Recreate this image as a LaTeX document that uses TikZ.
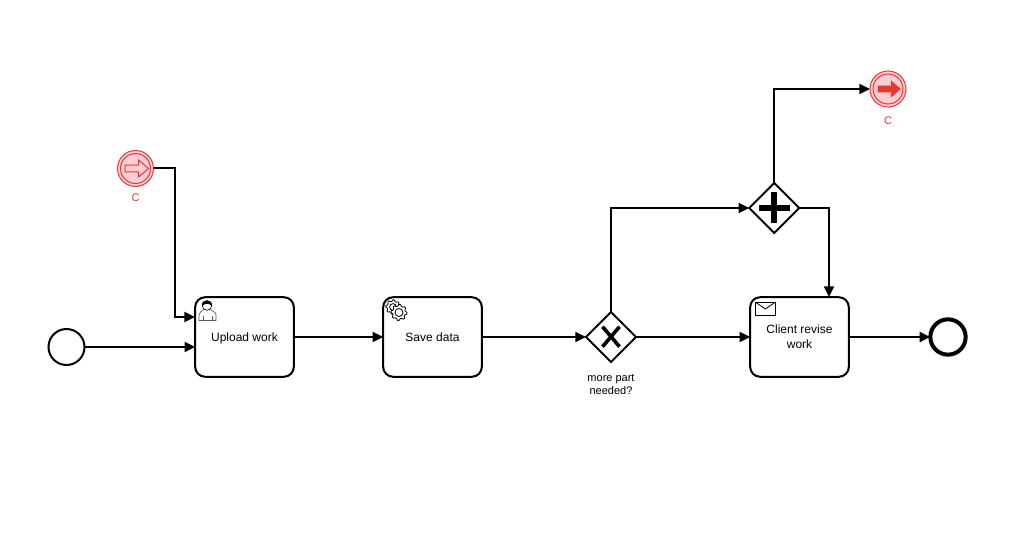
\documentclass[tikz,border=0pt]{standalone}
\usepackage{fontspec}
\setmainfont{Liberation Sans}
\usetikzlibrary{arrows.meta,shapes.geometric}
\definecolor{linkred}{RGB}{229,57,53}
\definecolor{linkpink}{RGB}{255,205,210}
\definecolor{usergrey}{RGB}{90,90,90}
\tikzset{
  flow/.style={line width=1.5pt,-{Triangle[length=8pt,width=7.5pt]}},
  taskbox/.style={draw,line width=1.5pt,rounded corners=7.5pt,minimum width=74pt,minimum height=59.7pt,inner sep=0pt,outer sep=0pt,align=center,text depth=0pt,font=\fontsize{9}{11.25}\selectfont},
  gatebox/.style={draw,diamond,line width=1.5pt,minimum width=37.5pt,minimum height=37.5pt,inner sep=0pt,outer sep=0pt},
  startevent/.style={draw,circle,line width=1.5pt,minimum size=27pt,inner sep=0pt,outer sep=0pt},
  endevent/.style={draw,circle,line width=3pt,minimum size=26.5pt,inner sep=0pt,outer sep=0pt},
  linkevent/.style={draw=linkred,fill=linkpink,circle,line width=.75pt,minimum size=27pt,inner sep=0pt,outer sep=0pt},
  smalllabel/.style={inner sep=0pt,align=center,font=\fontsize{8.25}{10}\selectfont},
  marker/.style={line width=4.8pt}
}
\newcommand{\linkarrow}{(-10.5,-3.3) -- (3,-3.3) -- (3,-8.5) -- (13,0) -- (3,8.5) -- (3,3.3) -- (-10.5,3.3) -- cycle}
\newcommand{\geartooth}[1]{plot[samples at={0,...,31}] ({\x*11.25}:{mod(\x,4)<2 ? #1 : #1*0.8}) -- cycle}
\begin{document}
\begin{tikzpicture}[x=0.75pt,y=0.75pt,yscale=-1,xscale=1]
\useasboundingbox (0,0) rectangle (1024,545);

% Events
\node [startevent] (start) at (66.5,347) {};
\node [endevent] (finish) at (948,337) {};
\node [linkevent] (catchlink) at (135.5,168.5) {};
\node [linkevent] (throwlink) at (888,89) {};
\draw [linkred,line width=.75pt] (catchlink) circle (15);
\draw [linkred,line width=.75pt] (throwlink) circle (15);
\draw [linkred,line width=.75pt,fill=linkpink,shift={(catchlink)}] \linkarrow;
\fill [linkred,shift={(throwlink)}] \linkarrow;
\node [smalllabel,text=linkred] (catchlabel) at (135.5,197.5) {C};
\node [smalllabel,text=linkred] (throwlabel) at (888,120.5) {C};

% Tasks
\node [taskbox] (upload) at (244.5,337) {Upload work};
\node [taskbox] (save) at (432.5,337) {Save data};
\node [taskbox] (revise) at (799.5,337) {Client revise\\[.2pt]work};

% Gateways
\node [gatebox] (xgate) at (611,337) {};
\node [gatebox] (plusgate) at (774.2,208) {};
\node [smalllabel] (xlabel) at (611,384.5) {more part\\needed?};
\draw [line width=2.7pt] (602.5,326.7) -- (619.5,346.7) (619.5,326.7) -- (602.5,346.7);
\draw [marker] (774.2,192) -- (774.2,223.5) (759,208) -- (790,208);

% User icon
\draw [usergrey,line width=.5pt,fill=white] (199,320.5) -- (199,315) .. controls (199,312) and (202,311) .. (204,309.5) -- (210,309.5) .. controls (212,311) and (216,312) .. (216,315) -- (216,320.5) -- cycle;
\draw [usergrey,line width=.5pt] (203,320.5) -- (203,316) (212.5,320.5) -- (212.5,316);
\draw [line width=.5pt,fill=white] (207,305.5) circle (4.8);
\fill (202,306) .. controls (200.5,298.5) and (213,298.5) .. (212,306) .. controls (208,302.5) and (205,303.5) .. (202,306) -- cycle;

% Gear icon
\draw [line width=.6pt,fill=white,shift={(393,307)}] \geartooth{7.2};
\draw [line width=.6pt,fill=white,shift={(393,307)}] (0,0) circle (3.4);
\draw [line width=.6pt,fill=white,shift={(399,312.5)}] \geartooth{8};
\draw [line width=.6pt,fill=white,shift={(399,312.5)}] (0,0) circle (4);

% Envelope icon
\draw [line width=.6pt] (755.7,302.3) rectangle (775,315.7);
\draw [line width=.6pt] (755.7,302.3) -- (765.3,309) -- (775,302.3);

% Free ends
\coordinate (uploadtop) at (195,317);
\coordinate (catchbend) at (175,168.5);
\coordinate (revisetop) at (829,297);

% Connectors
\draw [flow] (start.east) -- (upload.west |- start.east);
\draw [flow] (catchlink.east) -- (catchbend) |- (uploadtop);
\draw [flow] (upload.east) -- (save.west);
\draw [flow] (save.east) -- (xgate.west);
\draw [flow] (xgate.east) -- (revise.west);
\draw [flow] (xgate.north) |- (plusgate.west);
\draw [flow] (plusgate.north) |- (throwlink.west);
\draw [flow] (plusgate.east) -| (revisetop);
\draw [flow] (revise.east) -- (finish.west);
\end{tikzpicture}
\end{document}
